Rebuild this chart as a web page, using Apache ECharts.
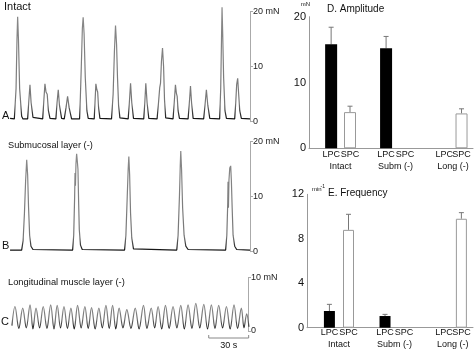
<!DOCTYPE html>
<html>
<head>
<meta charset="utf-8">
<script src="https://cdn.jsdelivr.net/npm/echarts@6/dist/echarts.min.js"></script>
<style>
  html, body { margin: 0; padding: 0; background: #fff; }
  #chart { width: 474px; height: 351px; }
</style>
</head>
<body>
<div id="chart"></div>
<script>
// time in s, force in mN
var traceA = [
  [3.8,0.6],[7,0.5],[8.3,6],[9.0,15],[9.5,19.1],[10.1,15],[11,6],[12.5,1],[13.5,0.5],
  [17,0.5],[17.8,3.5],[18.75,6.7],[19.6,3.5],[21,0.8],
  [28.3,0.5],[29.2,4],[30,6.9],[30.8,5.4],[31.7,5.0],[32.6,2],[33.8,0.6],
  [38.2,0.5],[39.1,3.5],[40,5.8],[40.9,3],[42.5,0.6],
  [44.5,0.5],[45.8,2.5],[47,4.6],[48.2,2.5],[50,0.5],
  [56,0.5],[56.6,4.5],[57.3,10],[58.1,17],[58.7,19],[59.4,16],[60.3,8],[61.5,2],[62.5,0.6],
  [67,0.5],[67.6,3.5],[68.25,6.9],[69,5.8],[69.6,5.4],[70.3,2.5],[71.3,0.6],
  [80,0.5],[81.2,5],[82.2,13],[83,17.5],[83.8,14],[84.5,8],[85.3,3],[86.3,0.7],
  [92.5,0.5],[93.4,3.5],[94.3,7],[95.2,3.5],[96.5,0.6],
  [104.2,0.5],[105,3.5],[105.75,7],[106.7,3.5],[108,0.6],
  [114.2,0.5],[115.3,3.5],[116.2,6.2],[116.8,7],[117.5,11],[118.3,13.4],[119.1,10],[119.8,4],[120.7,0.7],
  [126.2,0.5],[127.1,3.5],[128,6.7],[128.7,5.2],[129.3,4.6],[130,2],[131,0.6],
  [137.5,0.5],[138.3,3],[138.9,5],[139.3,6.5],[140.1,3.5],[141.3,0.6],
  [149.2,0.5],[150.2,3],[151.25,5.8],[152.3,3],[153.8,0.6],
  [161.2,0.5],[162,6],[162.6,15],[163,20.8],[163.5,16],[164.2,8],[165.2,2],[166.3,0.6],
  [172.5,0.5],[173.3,3.5],[174,6.8],[174.75,7.9],[175.5,5],[176.3,2],[177.5,0.6],
  [184,0.5]
];

var traceB = [
  [3.8,0.3],[12.5,0.3],[13.6,2],[14.6,7],[15.5,13],[16.3,16.7],[17,14],[17.7,8],[18.5,3],[19.5,1],[21,0.4],
  [50.8,0.3],[51.6,3],[52.3,10],[52.6,14.3],[52.9,12],[53.3,16],[53.8,17.8],[54.3,16.5],[54.8,15],[55.3,9],[55.8,4],[56.7,1.2],[58,0.4],
  [89.8,0.3],[90.8,3],[91.8,10],[92.5,15],[93,17.3],[93.6,14],[94.3,7],[95.2,2.5],[96.5,0.5],
  [129,0.3],[130,3],[131,10],[131.6,15.5],[132,18.3],[132.6,15],[133.4,8],[134.5,3],[135.8,1],[137.5,0.4],
  [165.7,0.3],[166.6,3],[167.3,9],[167.5,12.7],[167.8,8],[168.2,13],[168.8,15.2],[169.5,15.6],[170,13],[170.6,8],[171.3,3],[172.5,1],[174,0.4],
  [184,0.3]
];

var cPeakT = [7.5, 13.3, 18.8, 23.3, 28.7, 34.3, 39.2, 44.3, 49.5, 54.5, 60.0, 65.0, 70.5, 75.8, 80.8, 85.7,
  91.5, 97.8, 104.0, 109.8, 115.0, 120.5, 126.2, 132.0, 137.5, 143.3, 149.3, 155.0, 160.5, 166.3, 172.0, 177.5, 181.5];
var cPeakV = [4.6, 4.3, 4.9, 4.3, 4.6, 4.9, 4.8, 4.6, 4.3, 4.8, 4.6, 4.4, 4.3, 4.8, 4.8, 4.3,
  4.0, 4.3, 4.8, 4.3, 4.6, 4.8, 4.6, 4.8, 4.9, 5.2, 5.0, 4.9, 4.8, 4.6, 4.9, 4.3, 3.2];
var cTroughT = [5.2, 10.4, 16.0, 21.0, 26.0, 31.5, 36.8, 41.7, 46.9, 52.0, 57.2, 62.5, 67.7, 73.1, 78.3, 83.2,
  88.6, 94.6, 100.7, 106.6, 112.4, 117.7, 123.3, 129.1, 134.7, 140.4, 146.3, 152.1, 157.7, 163.4, 169.1, 174.7, 179.5, 183.2];
var cTroughV = [1.0, 0.5, 0.6, 0.4, 0.6, 0.5, 0.4, 0.6, 0.5, 0.4, 0.6, 0.5, 0.4, 0.6, 0.5, 0.4,
  0.6, 0.5, 0.4, 0.5, 0.6, 0.4, 0.5, 0.6, 0.4, 0.5, 0.6, 0.4, 0.5, 0.6, 0.4, 0.5, 0.6, 0.8];

// bar panels: groups Intact / Subm (-) / Long (-), mean and SEM
var groups = ['Intact', 'Subm (-)', 'Long (-)'];
var cellTypes = ['LPC', 'SPC'];
var ampLPC = [15.8, 15.2, null];
var ampLPCsem = [2.6, 1.8, null];
var ampSPC = [5.5, null, 5.3];
var ampSPCsem = [0.9, null, 0.7];
var freqLPC = [1.5, 1.05, null];
var freqLPCsem = [0.6, 0.15, null];
var freqSPC = [8.8, null, 9.8];
var freqSPCsem = [1.4, null, 0.55];

var FONT = 'Liberation Sans, Arial, sans-serif';
// where each LPC / SPC bar sits along the 0..10 bar x axis
var slotX = [[1.35, 2.5], [4.7, 5.85], [8.25, 9.3]];

var cTrace = [];
for (var i = 0; i < cPeakT.length; i++) {
  cTrace.push([cTroughT[i], cTroughV[i]]);
  cTrace.push([cPeakT[i], cPeakV[i]]);
}
cTrace.push([cTroughT[cTroughT.length - 1], cTroughV[cTroughV.length - 1]]);

var blackBar = { color: '#000' };
var whiteBar = { color: '#fff', borderColor: '#999', borderWidth: 1 };

function barData(lpc, spc) {
  var out = [];
  groups.forEach(function (g, j) {
    if (lpc[j] != null) out.push({ value: [slotX[j][0], lpc[j]], itemStyle: blackBar });
    if (spc[j] != null) out.push({ value: [slotX[j][1], spc[j]], itemStyle: whiteBar });
  });
  return out;
}
function errData(lpc, lpcSem, spc, spcSem) {
  var out = [];
  groups.forEach(function (g, j) {
    if (lpc[j] != null) out.push([slotX[j][0], lpc[j], lpc[j] + lpcSem[j]]);
    if (spc[j] != null) out.push([slotX[j][1], spc[j], spc[j] + spcSem[j]]);
  });
  return out;
}
function renderErr(params, api) {
  var a = api.coord([api.value(0), api.value(1)]);
  var b = api.coord([api.value(0), api.value(2)]);
  var st = { stroke: '#777', lineWidth: 1 };
  return { type: 'group', children: [
    { type: 'line', shape: { x1: a[0], y1: a[1], x2: a[0], y2: b[1] }, style: st },
    { type: 'line', shape: { x1: a[0] - 2.5, y1: b[1], x2: a[0] + 2.5, y2: b[1] }, style: st }
  ]};
}

function traceY(idx, max, unitAt) {
  return {
    gridIndex: idx, type: 'value', position: 'right', min: 0, max: max, interval: 10,
    axisLine: { show: true, onZero: false, lineStyle: { color: '#aaa' } },
    axisTick: { show: true, length: 3, lineStyle: { color: '#aaa' } },
    axisLabel: { fontSize: 9, margin: 3, color: '#222', fontFamily: FONT,
      formatter: function (v) { return v === unitAt ? v + ' mN' : v; } },
    splitLine: { show: false }
  };
}
function barX(idx) {
  return {
    gridIndex: idx, type: 'value', min: 0, max: 10,
    axisLine: { show: true, onZero: false, lineStyle: { color: '#999' } },
    axisTick: { show: false }, axisLabel: { show: false }, splitLine: { show: false }
  };
}
function barY(idx, max, step) {
  return {
    gridIndex: idx, type: 'value', min: 0, max: max, interval: step,
    axisLine: { show: true, onZero: false, lineStyle: { color: '#999' } },
    axisTick: { show: false },
    axisLabel: { fontSize: 11, margin: 3, color: '#111', fontFamily: FONT },
    splitLine: { show: false }
  };
}
function traceLine(idx, data, smooth, dark) {
  return {
    type: 'line', xAxisIndex: idx, yAxisIndex: idx, data: data, showSymbol: false,
    smooth: smooth || false, clip: false,
    lineStyle: { width: 1.2, color: new echarts.graphic.LinearGradient(0, 0, 0, 1, [
      { offset: 0, color: '#8a8a8a' },
      { offset: dark, color: '#777' },
      { offset: 1, color: '#000' }
    ]) }
  };
}

var chart = echarts.init(document.getElementById('chart'));

var option = {
  animation: false,
  grid: [
    { left: 5, right: 224, top: 11.7, bottom: 229.3 },
    { left: 5, right: 224, top: 141.7, bottom: 99.3 },
    { left: 5, right: 226, top: 277.7, bottom: 20 },
    { left: 309, right: 1, top: 16.7, bottom: 202.7 },
    { left: 307, right: 1, top: 194.3, bottom: 23.3 }
  ],
  xAxis: [
    { gridIndex: 0, type: 'value', min: 0, max: 184, show: false },
    { gridIndex: 1, type: 'value', min: 0, max: 184, show: false },
    { gridIndex: 2, type: 'value', min: 0, max: 182.5, show: false },
    barX(3),
    barX(4)
  ],
  yAxis: [
    traceY(0, 20, 20),
    traceY(1, 20, 20),
    traceY(2, 10, 10),
    barY(3, 20, 10),
    barY(4, 12, 4)
  ],
  series: [
    traceLine(0, traceA, false, 0.85),
    traceLine(1, traceB, false, 0.85),
    traceLine(2, cTrace, 0.35, 0.6),
    { type: 'bar', xAxisIndex: 3, yAxisIndex: 3, barWidth: 12, data: barData(ampLPC, ampSPC) },
    { type: 'custom', xAxisIndex: 3, yAxisIndex: 3, renderItem: renderErr,
      data: errData(ampLPC, ampLPCsem, ampSPC, ampSPCsem) },
    { type: 'bar', xAxisIndex: 4, yAxisIndex: 4, barWidth: 11, data: barData(freqLPC, freqSPC) },
    { type: 'custom', xAxisIndex: 4, yAxisIndex: 4, renderItem: renderErr,
      data: errData(freqLPC, freqLPCsem, freqSPC, freqSPCsem) }
  ]
};
chart.setOption(option);

function txt(text, x, y, size, align) {
  return { type: 'text', x: x, y: y, silent: true,
    style: { text: text, fontSize: size, fontFamily: FONT, fill: '#111',
      align: align || 'left', verticalAlign: 'middle' } };
}

var g = [
  txt('Intact', 4, 7, 11),
  txt('Submucosal layer (-)', 8, 145, 9.2),
  txt('Longitudinal muscle layer (-)', 8, 282, 9.3),
  txt('A', 2, 116, 11),
  txt('B', 2, 246, 11),
  txt('C', 1, 322, 11),
  txt('D. Amplitude', 327, 9, 10),
  txt('mN', 305.5, 4, 6, 'center'),
  txt('E. Frequency', 328, 193, 10),
  txt('min', 312, 189, 6),
  txt('-1', 320.5, 186.5, 5)
];

// LPC / SPC and group names under the bars
[[3, 155, 167], [4, 333, 345]].forEach(function (p) {
  groups.forEach(function (name, j) {
    var x0 = chart.convertToPixel({ xAxisIndex: p[0] }, slotX[j][0]);
    var x1 = chart.convertToPixel({ xAxisIndex: p[0] }, slotX[j][1]);
    g.push(txt(cellTypes[0], x0, p[1], 9, 'center'));
    g.push(txt(cellTypes[1], x1, p[1], 9, 'center'));
    g.push(txt(name, (x0 + x1) / 2, p[2], 9, 'center'));
  });
});

// 30 s scale bar under trace C
var sx0 = chart.convertToPixel({ xAxisIndex: 2 }, 153);
var sx1 = chart.convertToPixel({ xAxisIndex: 2 }, 183);
g.push({ type: 'polyline', silent: true,
  shape: { points: [[sx0, 335], [sx0, 338], [sx1, 338], [sx1, 335]] },
  style: { stroke: '#888', lineWidth: 1, fill: null } });
g.push(txt('30 s', (sx0 + sx1) / 2, 346, 9, 'center'));

chart.setOption({ graphic: g });
</script>
</body>
</html>
